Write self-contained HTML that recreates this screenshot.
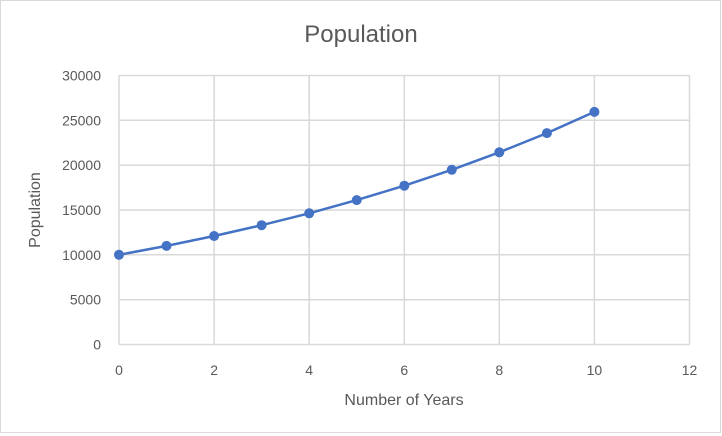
<!DOCTYPE html>
<html><head><style>body{margin:0;background:#fff}svg{display:block}</style></head><body>
<svg width="722" height="436" xmlns="http://www.w3.org/2000/svg" font-family="Liberation Sans, sans-serif">
<rect x="0.5" y="0.5" width="720" height="432" fill="#fff" stroke="#d9d9d9"/>
<text x="361" y="42" text-anchor="middle" font-size="24" fill="#595959">Population</text>
<g stroke="#d9d9d9" stroke-width="1.5" fill="none">
<line x1="119" y1="75.5" x2="689.5" y2="75.5"/><line x1="119" y1="120.3" x2="689.5" y2="120.3"/><line x1="119" y1="165.2" x2="689.5" y2="165.2"/><line x1="119" y1="210" x2="689.5" y2="210"/><line x1="119" y1="254.8" x2="689.5" y2="254.8"/><line x1="119" y1="299.7" x2="689.5" y2="299.7"/><line x1="119" y1="344.5" x2="689.5" y2="344.5"/>
<line x1="119" y1="75.5" x2="119" y2="344.5"/><line x1="214.1" y1="75.5" x2="214.1" y2="344.5"/><line x1="309.2" y1="75.5" x2="309.2" y2="344.5"/><line x1="404.3" y1="75.5" x2="404.3" y2="344.5"/><line x1="499.3" y1="75.5" x2="499.3" y2="344.5"/><line x1="594.4" y1="75.5" x2="594.4" y2="344.5"/><line x1="689.5" y1="75.5" x2="689.5" y2="344.5"/>
</g>
<g font-size="14" fill="#595959" text-anchor="end">
<text x="101" y="80.5">30000</text><text x="101" y="125.3">25000</text><text x="101" y="170.2">20000</text><text x="101" y="215">15000</text><text x="101" y="259.8">10000</text><text x="101" y="304.7">5000</text><text x="101" y="349.5">0</text>
</g>
<g font-size="14" fill="#595959" text-anchor="middle">
<text x="119" y="375">0</text><text x="214.1" y="375">2</text><text x="309.2" y="375">4</text><text x="404.3" y="375">6</text><text x="499.3" y="375">8</text><text x="594.4" y="375">10</text><text x="689.5" y="375">12</text>
<text x="404" y="405" font-size="16">Number of Years</text>
<text transform="translate(40,210) rotate(-90)" font-size="16">Population</text>
</g>
<polyline fill="none" stroke="#4472c4" stroke-width="2.5" points="119,254.8 166.5,245.9 214.1,236 261.6,225.2 309.2,213.3 356.7,200.1 404.3,185.7 451.8,169.8 499.3,152.3 546.9,133.1 594.4,111.9"/>
<g fill="#4472c4">
<circle cx="119" cy="254.8" r="5"/><circle cx="166.5" cy="245.9" r="5"/><circle cx="214.1" cy="236" r="5"/><circle cx="261.6" cy="225.2" r="5"/><circle cx="309.2" cy="213.3" r="5"/><circle cx="356.7" cy="200.1" r="5"/><circle cx="404.3" cy="185.7" r="5"/><circle cx="451.8" cy="169.8" r="5"/><circle cx="499.3" cy="152.3" r="5"/><circle cx="546.9" cy="133.1" r="5"/><circle cx="594.4" cy="111.9" r="5"/>
</g>
</svg>
</body></html>
